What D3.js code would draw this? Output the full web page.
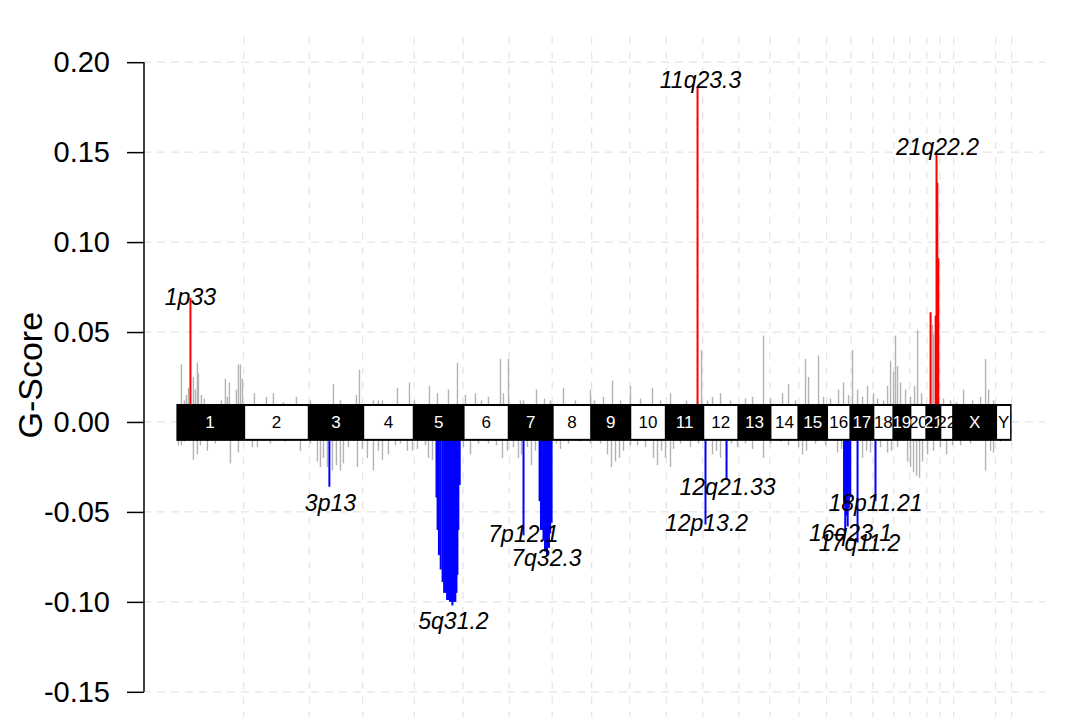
<!DOCTYPE html>
<html><head><meta charset="utf-8">
<script src="https://cdn.jsdelivr.net/npm/d3@7"></script>
<style>body{margin:0;background:#fff} svg{display:block;font-family:"Liberation Sans",Arial,sans-serif}</style>
</head><body><svg id="chart" width="1080" height="720"></svg>
<script>
const chromNames = ["1","2","3","4","5","6","7","8","9","10","11","12","13","14","15","16","17","18","19","20","21","22","X","Y"];
const chromLengths = [249.25,243.2,198.0,191.15,180.9,171.1,159.1,146.4,141.2,135.5,135.0,133.85,115.2,107.3,102.5,90.35,81.2,78.1,59.1,63.0,48.1,51.3,155.3,59.4];
const yTicks = [0.2,0.15,0.1,0.05,0,-0.05,-0.1,-0.15];
const yTickLabels = ["0.20","0.15","0.10","0.05","0.00","-0.05","-0.10","-0.15"];

// non-significant amplification G-scores (genome position Mb, score)
const ampPos = [18.5,29.7,37,44.5,63,70.4,77.8,81.6,92.7,103.8,166.8,181.6,189,196.5,222.4,229.8,237.3,244.7,289.2,333.6,359.6,396.7,444.9,496.8,582,608,667.3,678.4,730.3,748.8,763.7,819.3,863.8,882.3,937.9,967.6,1008.4,1041.7,1071.4,1108.4,1130.7,1156.6,1201.1,1212.2,1230.8,1275.3,1286.4,1334.6,1364.2,1386.5,1434.6,1479.1,1534.7,1549.6,1583,1616.3,1646,1683,1720.1,1764.6,1794.2,1831.3,1890.6,1946.2,1968.5,1987,2016.7,2053.7,2109.3,2135.3,2176.1,2202,2246.5,2268.8,2294.7,2331.8,2342.9,2380,2398.5,2424.5,2454.1,2472.6,2491.2,2506,2524.5,2543.1,2561.6,2583.9,2598.7,2620.9,2635.8,2646.9,2658,2665.4,2672.8,2684,2702.5,2721,2735.9,2747,2761.8,2802.6,2806.3,2843.3,2869.3,2891.5,2917.5,2950.9,2980.5,2999.1,3010.2,3028.7];
const ampScore = [0.032,0.012,0.015,0.019,0.025,0.018,0.033,0.027,0.015,0.013,0.012,0.024,0.014,0.022,0.018,0.032,0.032,0.024,0.016,0.014,0.016,0.011,0.014,0.012,0.021,0.012,0.015,0.029,0.012,0.012,0.012,0.019,0.022,0.012,0.020,0.016,0.018,0.033,0.015,0.016,0.012,0.014,0.035,0.016,0.035,0.012,0.012,0.018,0.013,0.012,0.019,0.012,0.018,0.012,0.014,0.023,0.012,0.020,0.013,0.019,0.012,0.016,0.012,0.040,0.012,0.014,0.016,0.012,0.013,0.014,0.048,0.013,0.016,0.021,0.012,0.035,0.025,0.037,0.014,0.013,0.018,0.022,0.015,0.040,0.018,0.014,0.020,0.016,0.013,0.012,0.020,0.034,0.028,0.048,0.031,0.022,0.018,0.014,0.020,0.051,0.016,0.054,0.049,0.013,0.012,0.011,0.018,0.012,0.014,0.035,0.018,0.012];

// non-significant deletion G-scores (genome position Mb, score)
const delPos = [7.4,18.5,29.7,63,77.8,89,115,144.6,200.2,229.8,281.7,300.3,348.5,404.1,459.7,496.8,522.7,533.8,545,559.7,578.3,593.1,608,619.1,637.6,671,689.4,708,730.3,748.8,763.7,785.9,811.9,830.4,856.3,874.9,893.4,923.1,934.2,949,1063.9,1089.9,1119.5,1156.6,1186.3,1208.5,1227.1,1249.3,1267.8,1279,1301.2,1316,1330.9,1408.7,1423.5,1453.2,1497.7,1534.7,1571.8,1597.8,1612.6,1627.4,1642.3,1657.1,1683,1709,1738.6,1768.3,1783.1,1798,1812.8,1831.3,1842.5,1868.4,1905.5,1935.1,1987,2001.8,2016.7,2057.4,2079.7,2109.3,2135.3,2176.1,2202,2239.1,2268.8,2305.8,2320.7,2335.5,2368.9,2406,2450.4,2465.3,2543.1,2557.9,2572.8,2609.8,2635.8,2650.6,2672.8,2709.9,2721,2732.1,2743.3,2754.4,2765.5,2784.1,2806.3,2832.2,2854.5,2876.7,2906.4,2943.5,2999.1,3017.6,3028.7,3054.6];
const delScore = [-0.013,-0.013,-0.011,-0.021,-0.018,-0.013,-0.016,-0.012,-0.023,-0.017,-0.014,-0.014,-0.012,-0.011,-0.016,-0.012,-0.022,-0.025,-0.020,-0.025,-0.027,-0.024,-0.027,-0.023,-0.014,-0.025,-0.015,-0.020,-0.027,-0.016,-0.021,-0.018,-0.013,-0.012,-0.016,-0.016,-0.015,-0.013,-0.020,-0.021,-0.014,-0.018,-0.012,-0.012,-0.013,-0.020,-0.016,-0.014,-0.020,-0.018,-0.014,-0.024,-0.016,-0.012,-0.015,-0.012,-0.011,-0.012,-0.012,-0.018,-0.025,-0.022,-0.020,-0.016,-0.013,-0.013,-0.014,-0.020,-0.024,-0.016,-0.020,-0.025,-0.015,-0.012,-0.014,-0.012,-0.018,-0.016,-0.020,-0.012,-0.014,-0.012,-0.015,-0.020,-0.012,-0.011,-0.013,-0.014,-0.018,-0.016,-0.012,-0.013,-0.017,-0.015,-0.020,-0.016,-0.017,-0.014,-0.017,-0.016,-0.014,-0.022,-0.025,-0.028,-0.030,-0.031,-0.022,-0.018,-0.016,-0.014,-0.018,-0.013,-0.013,-0.012,-0.027,-0.016,-0.017,-0.011];

// significant amplification segments (genome Mb start/end, score)
const sigAmpStart = [51,1930.5,2794.5,2813,2816,2818.5,2822];
const sigAmpEnd   = [53,1932.5,2796,2815,2818.5,2822,2826];
const sigAmpScore = [0.069,0.186,0.061,0.059,0.149,0.133,0.091];

// significant deletion segments (genome Mb start/end, score)
const sigDelStart = [566,962,966,970,976,983,990,1001,1012,1021,1025,1036,1040,1043,1047,1285.5,1345,1349,1357,1364,1372,1375,1383,1388,1960,2038,2472,2477,2481,2486,2490,2495,2523.5,2590];
const sigDelEnd   = [568,966,970,976,983,990,1001,1012,1021,1025,1036,1040,1043,1047,1053,1287.5,1347,1357,1364,1372,1375,1383,1388,1393,1962,2040,2477,2481,2486,2490,2495,2500,2525.5,2592];
const sigDelScore = [-0.036,-0.042,-0.06,-0.074,-0.082,-0.089,-0.095,-0.099,-0.1,-0.102,-0.1,-0.095,-0.085,-0.06,-0.035,-0.063,-0.044,-0.06,-0.066,-0.072,-0.074,-0.07,-0.062,-0.056,-0.057,-0.032,-0.045,-0.06,-0.052,-0.058,-0.048,-0.042,-0.067,-0.044];

// peak cytoband labels (genome Mb, label anchor score)
const peakNames = ["1p33","11q23.3","21q22.2","3p13","5q31.2","7p12.1","7q32.3","12q21.33","12p13.2","16q23.1","17q11.2","18p11.21"];
const peakPos   = [51.9,1942.5,2821,570.9,1026.9,1286.4,1371.6,2042.6,1964.8,2498.6,2532,2591.3];
const peakLabelScore = [0.0694,0.19,0.1528,-0.045,-0.1106,-0.0622,-0.0756,-0.0361,-0.0561,-0.0617,-0.0672,-0.045];

const svg = d3.select("#chart");
const total = d3.sum(chromLengths);
const ends = d3.cumsum(chromLengths);
const starts = ends.map((e,i)=>e-chromLengths[i]);
const padX = total*0.04;
const x = d3.scaleLinear().domain([-padX, total+padX]).range([143,1045]);
const y = d3.scaleLinear().domain([-0.164,0.214]).range([717,37]);

const grid = svg.append("g");
grid.selectAll("line.h").data(yTicks).join("line")
  .attr("x1",143).attr("x2",1045).attr("y1",d=>y(d)).attr("y2",d=>y(d))
  .attr("stroke","#e3e3e3").attr("stroke-width",1.2).attr("stroke-dasharray","8,6");
grid.selectAll("line.v").data(Array.from(ends)).join("line")
  .attr("x1",d=>x(d)).attr("x2",d=>x(d)).attr("y1",37).attr("y2",717)
  .attr("stroke","#e3e3e3").attr("stroke-width",1.2).attr("stroke-dasharray","7,8");

const gray = "#b3b3b3";
svg.append("g").selectAll("line").data(ampPos).join("line")
  .attr("x1",d=>x(d)).attr("x2",d=>x(d)).attr("y1",y(0)).attr("y2",(d,i)=>y(ampScore[i]))
  .attr("stroke",gray).attr("stroke-width",1.4);
svg.append("g").selectAll("line").data(delPos).join("line")
  .attr("x1",d=>x(d)).attr("x2",d=>x(d)).attr("y1",y(0)).attr("y2",(d,i)=>y(delScore[i]))
  .attr("stroke",gray).attr("stroke-width",1.4);

function seg(g, st, en, sc, color){
  g.selectAll("rect").data(st).join("rect")
    .attr("x",(d,i)=>{const w=x(en[i])-x(d); return w<2 ? (x(d)+x(en[i]))/2-1 : x(d)-0.4;})
    .attr("width",(d,i)=>{const w=x(en[i])-x(d); return w<2 ? 2 : w+0.8;})
    .attr("y",(d,i)=>Math.min(y(0),y(sc[i])))
    .attr("height",(d,i)=>Math.abs(y(sc[i])-y(0)))
    .attr("fill",color);
}
seg(svg.append("g"), sigAmpStart, sigAmpEnd, sigAmpScore, "#ff0000");
seg(svg.append("g"), sigDelStart, sigDelEnd, sigDelScore, "#0000ff");

// chromosome band
const band = svg.append("g");
const bTop = y(0.01), bBot = y(-0.0105);
band.append("rect").attr("x",x(0)).attr("y",bTop).attr("width",x(total)-x(0)).attr("height",bBot-bTop).attr("fill","#000");
band.selectAll("rect.w").data(chromNames.map((n,i)=>i).filter(i=>i%2===1)).join("rect")
  .attr("x",i=>x(starts[i])+1.5).attr("y",bTop+2).attr("width",i=>x(ends[i])-x(starts[i])-3).attr("height",bBot-bTop-4)
  .attr("fill","#fff");
band.selectAll("text").data(chromNames).join("text")
  .attr("x",(d,i)=>(x(starts[i])+x(ends[i]))/2).attr("y",(bTop+bBot)/2)
  .attr("text-anchor","middle").attr("dominant-baseline","central")
  .attr("font-size",17).attr("fill",(d,i)=>i%2===0?"#fff":"#000").text(d=>d);

// axis
const ax = svg.append("g").attr("transform","translate(144,0)")
  .call(d3.axisLeft(y).tickValues(yTicks).tickFormat((d,i)=>yTickLabels[i]).tickSize(17).tickPadding(17));
ax.select(".domain").remove();
ax.selectAll(".tick line").attr("stroke","#000").attr("stroke-width",1.5);
ax.selectAll(".tick text").attr("font-size",29).attr("fill","#000").attr("font-family","'Liberation Sans',Arial,sans-serif");
svg.append("line").attr("x1",144).attr("x2",144).attr("y1",y(0.2)).attr("y2",y(-0.15)).attr("stroke","#000").attr("stroke-width",1.5);

svg.append("text").attr("transform",`translate(42,${y(0.026)}) rotate(-90)`)
  .attr("text-anchor","middle").attr("font-size",34).text("G-Score");

svg.append("g").selectAll("text").data(peakNames).join("text")
  .attr("x",(d,i)=>x(peakPos[i])).attr("y",(d,i)=>y(peakLabelScore[i]))
  .attr("text-anchor","middle").attr("dominant-baseline","central")
  .attr("font-style","italic").attr("font-size",23).attr("fill","#000").text(d=>d);
</script></body></html>
